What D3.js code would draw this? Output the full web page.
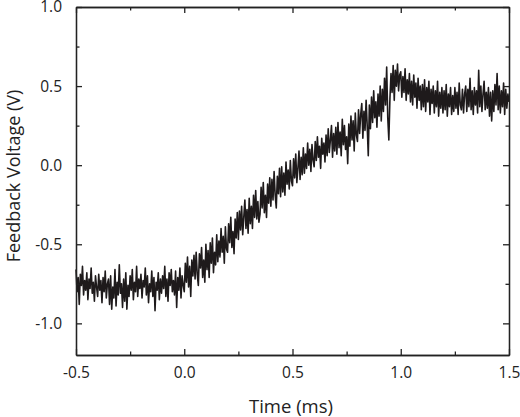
<!DOCTYPE html>
<html>
<head>
<meta charset="utf-8">
<script src="https://cdn.jsdelivr.net/npm/d3@7"></script>
<style>
  body { margin: 0; background: #fff; }
  svg { display: block; }
  .axis text { font-family: 'Open Sans', sans-serif; font-size: 15.5px; fill: #222; }
  .axis path, .axis line { stroke: #222; stroke-width: 1.3; }
  .title { font-family: 'Open Sans', sans-serif; font-size: 18px; fill: #222; }
</style>
</head>
<body>
<svg class="chart"></svg>
<script>
// time axis: -0.500 .. 1.500 ms in 0.005 ms steps
var tStart = -0.5;
var tStep = 0.005;

// feedback voltage, one row per 0.05 ms
var voltage = [
  -0.66, -0.80, -0.71, -0.88, -0.69, -0.76, -0.64, -0.82, -0.73, -0.79,
  -0.68, -0.85, -0.72, -0.78, -0.65, -0.81, -0.74, -0.86, -0.70, -0.77,
  -0.83, -0.69, -0.79, -0.73, -0.87, -0.71, -0.80, -0.67, -0.84, -0.75,
  -0.72, -0.88, -0.70, -0.91, -0.77, -0.84, -0.66, -0.89, -0.74, -0.82,
  -0.63, -0.81, -0.75, -0.90, -0.72, -0.86, -0.68, -0.91, -0.76, -0.83,
  -0.70, -0.79, -0.66, -0.85, -0.74, -0.80, -0.64, -0.83, -0.72, -0.78,
  -0.69, -0.84, -0.73, -0.77, -0.65, -0.82, -0.70, -0.87, -0.75, -0.80,
  -0.67, -0.83, -0.71, -0.92, -0.74, -0.79, -0.68, -0.85, -0.72, -0.81,
  -0.70, -0.78, -0.64, -0.83, -0.72, -0.86, -0.68, -0.76, -0.66, -0.80,
  -0.73, -0.82, -0.67, -0.90, -0.71, -0.79, -0.65, -0.84, -0.70, -0.76,
  -0.80, -0.62, -0.74, -0.58, -0.77, -0.64, -0.83, -0.60, -0.70, -0.57,
  -0.72, -0.55, -0.69, -0.76, -0.56, -0.65, -0.52, -0.71, -0.60, -0.74,
  -0.50, -0.66, -0.54, -0.71, -0.49, -0.62, -0.46, -0.68, -0.55, -0.63,
  -0.44, -0.61, -0.48, -0.58, -0.40, -0.55, -0.45, -0.62, -0.39, -0.53,
  -0.55, -0.37, -0.49, -0.33, -0.52, -0.42, -0.56, -0.34, -0.46, -0.30,
  -0.47, -0.29, -0.41, -0.26, -0.44, -0.33, -0.22, -0.40, -0.28, -0.43,
  -0.21, -0.37, -0.26, -0.40, -0.19, -0.33, -0.16, -0.34, -0.23, -0.36,
  -0.31, -0.14, -0.27, -0.11, -0.30, -0.19, -0.33, -0.12, -0.24, -0.08,
  -0.26, -0.09, -0.22, -0.04, -0.19, -0.27, -0.07, -0.18, -0.02, -0.20,
  -0.01, -0.17, -0.05, -0.19, 0.02, -0.12, -0.03, -0.15, 0.03, -0.10,
  -0.13, 0.04, -0.08, 0.07, -0.11, -0.02, 0.09, -0.09, 0.05, -0.06,
  0.11, -0.05, 0.07, -0.02, 0.14, 0.00, 0.10, -0.04, 0.13, 0.03,
  -0.01, 0.15, 0.03, 0.18, 0.05, 0.12, -0.02, 0.17, 0.07, 0.14,
  0.02, 0.19, 0.06, 0.23, 0.08, 0.16, 0.25, 0.05, 0.20, 0.09,
  0.24, 0.07, 0.27, 0.11, 0.21, 0.06, 0.29, 0.13, 0.25, 0.10,
  0.18, 0.01, 0.26, 0.12, 0.31, 0.16, 0.28, 0.09, 0.33, 0.19,
  0.15, 0.35, 0.20, 0.32, 0.39, 0.17, 0.34, 0.22, 0.41, 0.25,
  0.06, 0.38, 0.23, 0.43, 0.27, 0.47, 0.30, 0.40, 0.24, 0.45,
  0.31, 0.50, 0.28, 0.48, 0.34, 0.55, 0.38, 0.62, 0.30, 0.16,
  0.42, 0.58, 0.46, 0.63, 0.41, 0.60, 0.50, 0.64, 0.47, 0.57,
  0.59, 0.43, 0.56, 0.46, 0.61, 0.41, 0.54, 0.45, 0.58, 0.40,
  0.53, 0.38, 0.57, 0.43, 0.52, 0.36, 0.55, 0.41, 0.50, 0.35,
  0.51, 0.37, 0.54, 0.34, 0.49, 0.40, 0.53, 0.32, 0.48, 0.39,
  0.50, 0.33, 0.47, 0.37, 0.53, 0.31, 0.46, 0.36, 0.49, 0.33,
  0.47, 0.35, 0.51, 0.31, 0.45, 0.37, 0.49, 0.32, 0.44, 0.34,
  0.49, 0.36, 0.46, 0.32, 0.52, 0.38, 0.35, 0.48, 0.33, 0.45,
  0.50, 0.34, 0.48, 0.37, 0.55, 0.35, 0.47, 0.32, 0.49, 0.38,
  0.47, 0.33, 0.60, 0.37, 0.50, 0.34, 0.45, 0.53, 0.35, 0.46,
  0.36, 0.49, 0.31, 0.46, 0.28, 0.47, 0.34, 0.51, 0.38, 0.58,
  0.35, 0.50, 0.33, 0.47, 0.37, 0.52, 0.32, 0.48, 0.36, 0.45,
  0.40
];

var xTicks = [-0.5, 0.0, 0.5, 1.0, 1.5];
var xMinor = [-0.25, 0.25, 0.75, 1.25];
var yTicks = [-1.0, -0.5, 0.0, 0.5, 1.0];
var yMinor = [-0.75, -0.25, 0.25, 0.75];

var width = 520;
var height = 417;
var margin = {top: 7, right: 11, bottom: 62, left: 76};

var x = d3.scaleLinear().domain([-0.5, 1.5])
    .range([margin.left, width - margin.right]);
var y = d3.scaleLinear().domain([-1.2, 1.0])
    .range([height - margin.bottom, margin.top]);

var chart = d3.select('.chart').attr('width', width).attr('height', height);

var points = voltage.map((v, i) => [tStart + i * tStep, v]);

chart.append('path')
    .datum(points)
    .attr('fill', 'none')
    .attr('stroke', '#1e1a1b')
    .attr('stroke-width', 1.6)
    .attr('stroke-linejoin', 'round')
    .attr('d', d3.line().x(d => x(d[0])).y(d => y(d[1])));

// plain hyphen minus, as in the original figure
var fmt = d => d.toFixed(1);
var majorLen = 6, minorLen = 3.5;
var bottom = height - margin.bottom, right = width - margin.right;

// labelled axes (ticks inward)
chart.append('g').attr('class', 'axis')
    .attr('transform', 'translate(0,' + bottom + ')')
    .call(d3.axisBottom(x).tickValues(xTicks).tickFormat(fmt)
      .tickSizeInner(-majorLen).tickSizeOuter(0).tickPadding(12));
chart.append('g').attr('class', 'axis')
    .attr('transform', 'translate(' + margin.left + ',0)')
    .call(d3.axisLeft(y).tickValues(yTicks).tickFormat(fmt)
      .tickSizeInner(-majorLen).tickSizeOuter(0).tickPadding(14));
// frame axes, no labels
chart.append('g').attr('class', 'axis')
    .attr('transform', 'translate(0,' + margin.top + ')')
    .call(d3.axisTop(x).tickValues(xTicks).tickFormat('')
      .tickSizeInner(-majorLen).tickSizeOuter(0));
chart.append('g').attr('class', 'axis')
    .attr('transform', 'translate(' + right + ',0)')
    .call(d3.axisRight(y).tickValues(yTicks).tickFormat('')
      .tickSizeInner(-majorLen).tickSizeOuter(0));

// minor ticks
chart.append('g').attr('class', 'axis')
    .attr('transform', 'translate(0,' + bottom + ')')
    .call(d3.axisBottom(x).tickValues(xMinor).tickFormat('')
      .tickSizeInner(-minorLen).tickSizeOuter(0));
chart.append('g').attr('class', 'axis')
    .attr('transform', 'translate(0,' + margin.top + ')')
    .call(d3.axisTop(x).tickValues(xMinor).tickFormat('')
      .tickSizeInner(-minorLen).tickSizeOuter(0));
chart.append('g').attr('class', 'axis')
    .attr('transform', 'translate(' + margin.left + ',0)')
    .call(d3.axisLeft(y).tickValues(yMinor).tickFormat('')
      .tickSizeInner(-minorLen).tickSizeOuter(0));
chart.append('g').attr('class', 'axis')
    .attr('transform', 'translate(' + right + ',0)')
    .call(d3.axisRight(y).tickValues(yMinor).tickFormat('')
      .tickSizeInner(-minorLen).tickSizeOuter(0));

// axis titles
chart.append('text').attr('class', 'title')
    .attr('x', 291)
    .attr('y', 413)
    .attr('text-anchor', 'middle')
    .style('font-size', '18.5px')
    .text('Time (ms)');
chart.append('text').attr('class', 'title')
    .attr('transform', 'translate(19.5,176) rotate(-90)')
    .attr('text-anchor', 'middle')
    .text('Feedback Voltage (V)');
</script>
</body>
</html>
